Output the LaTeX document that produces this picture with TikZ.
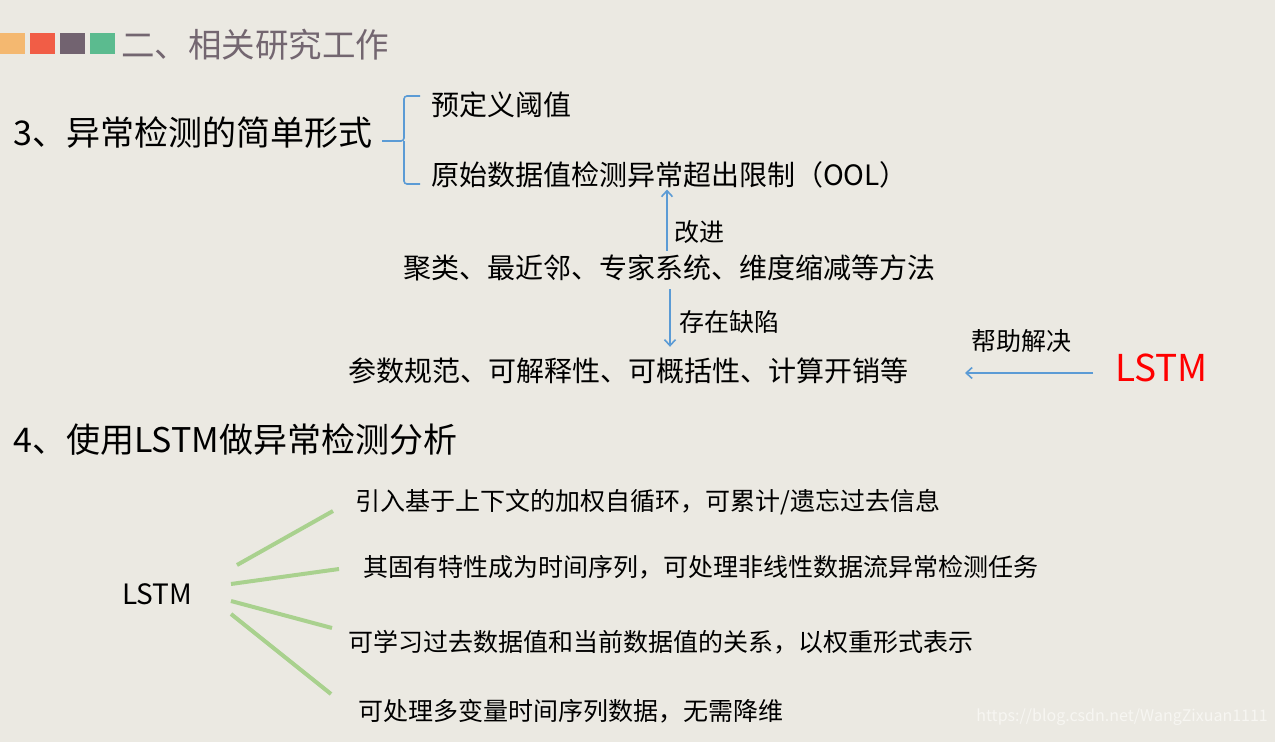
\documentclass[tikz,border=0pt]{standalone}
\usepackage{fontspec}
\setmainfont{Noto Sans CJK SC}
\usetikzlibrary{arrows.meta,calc}
\definecolor{bg}{HTML}{EBE9E2}
\definecolor{sqA}{HTML}{F4B870}
\definecolor{sqB}{HTML}{F15D46}
\definecolor{sqC}{HTML}{726370}
\definecolor{sqD}{HTML}{5BBB8F}
\definecolor{headc}{HTML}{736670}
\definecolor{bluel}{HTML}{5B9BD5}
\definecolor{greenl}{HTML}{A9D18E}
\definecolor{wm}{HTML}{F7F6F2}
\tikzset{
  sq/.style={minimum width=25pt,minimum height=21pt,inner sep=0pt,anchor=north west},
  thead/.style={anchor=west,inner sep=1pt,font=\fontsize{33.5}{38}\selectfont},
  tbig/.style={anchor=west,inner sep=1pt,font=\fontsize{34}{39}\selectfont},
  tmid/.style={anchor=west,inner sep=1pt,font=\fontsize{28}{32}\selectfont},
  tsml/.style={anchor=west,inner sep=1pt,font=\fontsize{25}{29}\selectfont},
  barrow/.style={draw=bluel,line width=1.6pt,-{Straight Barb[length=6pt,width=11pt]}},
  gline/.style={draw=greenl,line width=4pt},
  brace/.style={draw=bluel,line width=1.6pt,rounded corners=3pt}
}
\begin{document}
\begin{tikzpicture}[x=1pt,y=-1pt]
\fill[bg] (0,0) rectangle (1275,742);
\useasboundingbox (0,0) rectangle (1275,742);
% header squares
\node[sq,fill=sqA] (s1) at (0,33) {};
\node[sq,fill=sqB] (s2) at (30,33) {};
\node[sq,fill=sqC] (s3) at (60,33) {};
\node[sq,fill=sqD] (s4) at (90,33) {};
\node[thead,text=headc] (head) at (120,45) {二、相关研究工作};
% section 3
\node[tbig] (t3) at (12,133) {3、异常检测的简单形式};
\node[tmid] (pre) at (430,105) {预定义阈值};
\node[tmid] (ool) at (430,175) {原始数据值检测异常超出限制（OOL）};
\coordinate (br0) at (382,141);
\coordinate (brT) at (420,96);
\coordinate (brB) at (420,184);
\draw[brace] (br0) -- (404,141) -- (404,96) -- (brT);
\draw[brace] (404,141) -- (404,184) -- (brB);
\node[tmid] (jl) at (402,268) {聚类、最近邻、专家系统、维度缩减等方法};
\node[tmid] (cs) at (347,371) {参数规范、可解释性、可概括性、计算开销等};
\coordinate (a1) at (667,0);
\coordinate (a2) at (670,0);
\draw[barrow] ($(jl.north -| a1)+(0,-3)$) -- (ool.south -| a1);
\node[tsml] (gj) at (673,232) {改进};
\draw[barrow] ($(jl.south -| a2)+(0,7)$) -- ($(cs.north -| a2)+(0,-10)$);
\node[tsml] (cz) at (678,322) {存在缺陷};
\node[anchor=west,inner sep=1pt,text=red,font=\fontsize{37}{42}\selectfont] (lstmr) at (1114,368) {LSTM};
\node[tsml] (bz) at (970,341) {帮助解决};
\coordinate (h1) at (1093,373);
\coordinate (h2) at (965,373);
\draw[barrow] (h1) -- (h2);
% section 4
\node[tbig] (t4) at (12,440) {4、使用LSTM做异常检测分析};
\node[tmid] (lstm) at (121,594) {LSTM};
\node[tsml] (b1) at (354,502) {引入基于上下文的加权自循环，可累计/遗忘过去信息};
\node[tsml] (b2) at (362,567) {其固有特性成为时间序列，可处理非线性数据流异常检测任务};
\node[tsml] (b3) at (347,642) {可学习过去数据值和当前数据值的关系，以权重形式表示};
\node[tsml] (b4) at (357,711) {可处理多变量时间序列数据，无需降维};
\coordinate (l1s) at (237,565); \coordinate (l1e) at (333,511);
\coordinate (l2s) at (231,584); \coordinate (l2e) at (339,569);
\coordinate (l3s) at (231,601); \coordinate (l3e) at (332,628);
\coordinate (l4s) at (231,614); \coordinate (l4e) at (331,694);
\draw[gline] (l1s) -- (l1e);
\draw[gline] (l2s) -- (l2e);
\draw[gline] (l3s) -- (l3e);
\draw[gline] (l4s) -- (l4e);
% watermark
\node[anchor=east,inner sep=0pt,text=wm,font=\fontsize{16}{18}\selectfont] (wmk) at (1268,717) {https://blog.csdn.net/WangZixuan1111};
\end{tikzpicture}
\end{document}
